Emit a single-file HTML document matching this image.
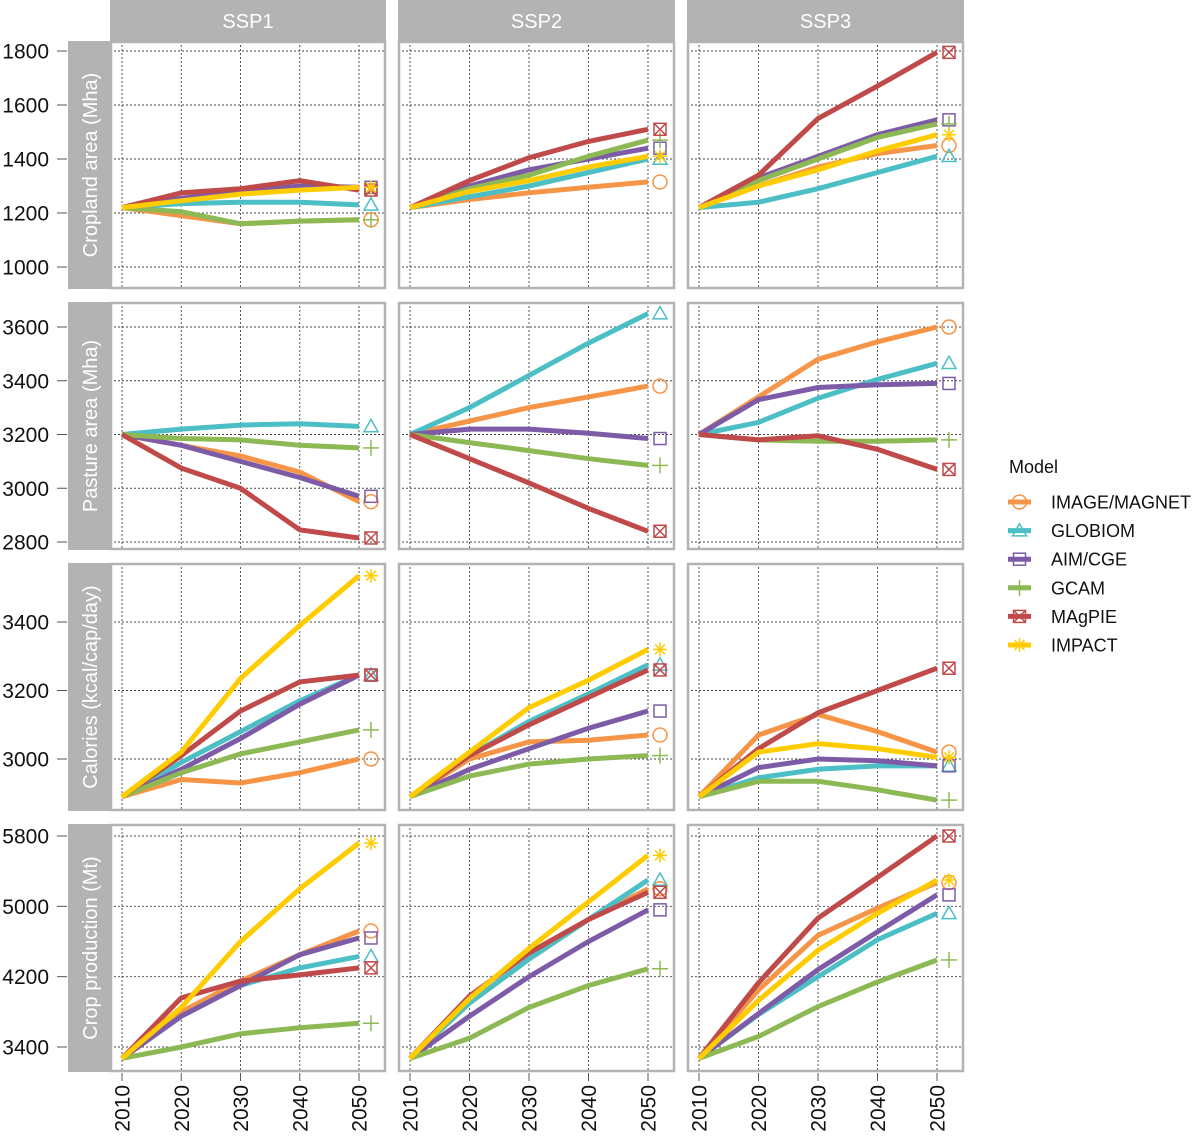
<!DOCTYPE html>
<html><head><meta charset="utf-8">
<style>
html,body{margin:0;padding:0;background:#fff}
svg{display:block;font-family:"Liberation Sans",sans-serif}
</style></head>
<body>
<svg id="chart" width="1200" height="1139" viewBox="0 0 1200 1139"></svg>
<script>
const years = [2010, 2020, 2030, 2040, 2050];
const scenarios = ["SSP1", "SSP2", "SSP3"];
const models = ["IMAGE/MAGNET", "GLOBIOM", "AIM/CGE", "GCAM", "MAgPIE", "IMPACT"];
const modelColors = ["#F69547", "#4BBFC5", "#7D5BA6", "#8DB955", "#C04A4A", "#FFCC00"];
const modelShapes = ["circle", "triangle", "square", "plus", "boxx", "star"];
const rowTitles = ["Cropland area (Mha)", "Pasture area (Mha)", "Calories (kcal/cap/day)", "Crop production (Mt)"];
const rowTicks = [[1000,1200,1400,1600,1800],[2800,3000,3200,3400,3600],[3000,3200,3400],[3400,4200,5000,5800]];

const cropland = [
 [[1220,1190,1160,1170,1175],[1220,1235,1240,1240,1230],[1220,1255,1280,1300,1295],[1220,1205,1160,1170,1175],[1220,1275,1290,1320,1285],[1220,1245,1270,1285,1295]],
 [[1220,1250,1275,1295,1315],[1220,1260,1300,1350,1400],[1220,1300,1360,1400,1440],[1220,1290,1340,1410,1470],[1220,1320,1405,1465,1510],[1220,1280,1320,1370,1410]],
 [[1220,1300,1370,1420,1450],[1220,1240,1290,1350,1410],[1220,1330,1410,1490,1545],[1220,1320,1400,1480,1530],[1220,1340,1550,1670,1795],[1220,1300,1360,1430,1490]]
];
const pasture = [
 [[3200,3160,3120,3060,2950],[3200,3220,3235,3240,3230],[3200,3160,3100,3040,2970],[3200,3185,3180,3160,3150],[3200,3075,3000,2845,2815],null],
 [[3200,3250,3300,3340,3380],[3200,3300,3420,3540,3650],[3200,3220,3220,3205,3185],[3200,3170,3140,3110,3085],[3200,3110,3020,2925,2840],null],
 [[3200,3340,3480,3545,3600],[3200,3245,3335,3405,3465],[3200,3330,3375,3385,3390],[3200,3180,3175,3175,3180],[3200,3180,3195,3145,3070],null]
];
const calories = [
 [[2890,2940,2930,2960,3000],[2890,2990,3080,3170,3245],[2890,2970,3060,3160,3245],[2890,2960,3015,3050,3085],[2890,3010,3140,3225,3245],[2890,3020,3235,3390,3535]],
 [[2890,3000,3050,3055,3070],[2890,3010,3110,3190,3275],[2890,2970,3030,3090,3140],[2890,2950,2985,3000,3010],[2890,3010,3100,3180,3260],[2890,3020,3150,3230,3320]],
 [[2890,3070,3130,3080,3020],[2890,2945,2970,2980,2980],[2890,2975,3000,2995,2980],[2890,2935,2935,2910,2880],[2890,3030,3135,3200,3265],[2890,3020,3045,3030,3005]]
];
const production = [
 [[3270,3800,4150,4450,4720],[3270,3750,4100,4300,4430],[3270,3750,4100,4450,4640],[3270,3400,3550,3620,3670],[3270,3960,4150,4220,4300],[3270,3850,4600,5200,5720]],
 [[3270,3900,4400,4850,5200],[3270,3900,4400,4850,5300],[3270,3750,4200,4600,4960],[3270,3500,3850,4100,4290],[3270,3980,4470,4850,5160],[3270,3950,4520,5050,5580]],
 [[3270,4050,4670,4980,5270],[3270,3770,4200,4620,4920],[3270,3780,4280,4710,5130],[3270,3520,3860,4140,4390],[3270,4130,4865,5330,5800],[3270,3930,4500,4920,5300]]
];
const allData = [cropland, pasture, calories, production];

const NS = "http://www.w3.org/2000/svg";
const svg = document.getElementById("chart");
function mk(tag, attrs, parent){const e=document.createElementNS(NS,tag);for(const k in attrs)e.setAttribute(k,attrs[k]);(parent||svg).appendChild(e);return e;}

const colX = [[110,386],[398,675],[687,964]];
const rowY = [[41,289],[302,550],[563,811],[824,1072]];
const rowAnchors = [[1000,267,1800,51],[2800,542,3600,327],[3000,759,3400,622],[3400,1047,5800,836]];
function xScale(c, yr){const x0 = colX[c][0]+12; return x0 + (yr-2010)*((colX[c][1]-colX[c][0]-39)/40);}
function yScale(r, v){const a=rowAnchors[r]; return a[1] + (v-a[0])*(a[3]-a[1])/(a[2]-a[0]);}

function drawMarker(g, shape, x, y, col){
  const s=7;
  if(shape==="circle") mk("circle",{cx:x,cy:y,r:s,fill:"none",stroke:col,"stroke-width":1.5},g);
  else if(shape==="triangle") mk("polygon",{points:`${x},${y-s} ${x-s},${y+s*0.75} ${x+s},${y+s*0.75}`,fill:"none",stroke:col,"stroke-width":1.5},g);
  else if(shape==="square") mk("rect",{x:x-6,y:y-6,width:12,height:12,fill:"none",stroke:col,"stroke-width":1.5},g);
  else if(shape==="plus"){mk("line",{x1:x-s-1,y1:y,x2:x+s+1,y2:y,stroke:col,"stroke-width":1.5},g);mk("line",{x1:x,y1:y-s-1,x2:x,y2:y+s+1,stroke:col,"stroke-width":1.5},g);}
  else if(shape==="boxx"){mk("rect",{x:x-6,y:y-6,width:12,height:12,fill:"none",stroke:col,"stroke-width":1.5},g);mk("line",{x1:x-6,y1:y-6,x2:x+6,y2:y+6,stroke:col,"stroke-width":1.5},g);mk("line",{x1:x+6,y1:y-6,x2:x-6,y2:y+6,stroke:col,"stroke-width":1.5},g);}
  else if(shape==="star"){for(let a=0;a<4;a++){const t=a*Math.PI/4;mk("line",{x1:x-s*Math.cos(t),y1:y-s*Math.sin(t),x2:x+s*Math.cos(t),y2:y+s*Math.sin(t),stroke:col,"stroke-width":1.5},g);}}
}

scenarios.forEach((s,c)=>{
  const r=mk("rect",{x:colX[c][0],y:0,width:colX[c][1]-colX[c][0],height:41,fill:"#b3b3b3"});
  
  
  const t=mk("text",{x:(colX[c][0]+colX[c][1])/2,y:28,"text-anchor":"middle","font-size":20,fill:"#fff"});
  t.textContent=s;
  
  
});

rowTitles.forEach((title,r)=>{
  const [y0,y1]=rowY[r];
  const st=mk("rect",{x:68,y:y0,width:42,height:y1-y0,fill:"#b3b3b3"});
  
  
  const tt=mk("text",{x:0,y:0,"text-anchor":"middle","font-size":20,fill:"#fff",transform:`translate(97,${(y0+y1)/2}) rotate(-90)`});
  tt.textContent=title;
  
  
  rowTicks[r].forEach(v=>{
    const yy=yScale(r,v);
    const tk=mk("line",{x1:57,x2:67,y1:yy,y2:yy,stroke:"#555","stroke-width":1});
    
    
    const tl=mk("text",{x:49,y:yy+7.5,"text-anchor":"end","font-size":21,fill:"#111"});
    tl.textContent=v;
    
    
  });
  scenarios.forEach((s,c)=>{
    const [x0,x1]=colX[c];
    const g=mk("g",{});
    
    
    mk("rect",{x:x0,y:y0,width:x1-x0,height:y1-y0,fill:"#fff"},g);
    rowTicks[r].forEach(v=>{const yy=yScale(r,v);mk("line",{x1:x0,x2:x1,y1:yy,y2:yy,stroke:"#444","stroke-width":0.9,"stroke-dasharray":"2,2"},g);});
    years.forEach(yr=>{const xx=xScale(c,yr);mk("line",{x1:xx,x2:xx,y1:y0,y2:y1,stroke:"#444","stroke-width":0.9,"stroke-dasharray":"2,2"},g);});
    const data=allData[r][c];
    models.forEach((m,mi)=>{
      const vals=data[mi]; if(!vals) return;
      const pts=vals.map((v,i)=>xScale(c,years[i]).toFixed(1)+","+yScale(r,v).toFixed(1)).join(" ");
      const pl=mk("polyline",{points:pts,fill:"none",stroke:modelColors[mi],"stroke-width":5,"stroke-linejoin":"miter"},g);
      
      
    });
    models.forEach((m,mi)=>{
      const vals=data[mi]; if(!vals) return;
      const mg=mk("g",{},g);
      
      
      drawMarker(mg,modelShapes[mi],xScale(c,2050)+12,yScale(r,vals[4]),modelColors[mi]);
    });
    mk("rect",{x:x0+1,y:y0+1,width:x1-x0-2,height:y1-y0-2,fill:"none",stroke:"#b3b3b3","stroke-width":2.5},g);
  });
});

scenarios.forEach((s,c)=>{
  years.forEach(yr=>{
    const xx=xScale(c,yr);
    const tk=mk("line",{x1:xx,x2:xx,y1:1073,y2:1081,stroke:"#555","stroke-width":1});
    
    
    const tl=mk("text",{x:0,y:0,"text-anchor":"end","font-size":21,fill:"#111",transform:`translate(${xx+7.5},1085) rotate(-90)`});
    tl.textContent=yr;
    
    
  });
});

const lg=mk("g",{});


const lt=mk("text",{x:1009,y:473,"font-size":18,fill:"#111"},lg);
lt.textContent="Model";


models.forEach((m,mi)=>{
  const yy=502+mi*28.6;
  const e=mk("g",{},lg);
  
  
  mk("line",{x1:1008,x2:1031,y1:yy,y2:yy,stroke:modelColors[mi],"stroke-width":5},e);
  drawMarker(e,modelShapes[mi],1019.5,yy,modelColors[mi]);
  const t=mk("text",{x:1051,y:yy+6.5,"font-size":18,fill:"#111"},e);
  t.textContent=m;
});
</script>
</body></html>
